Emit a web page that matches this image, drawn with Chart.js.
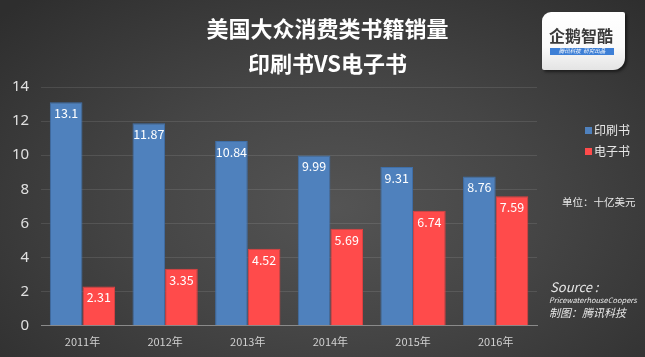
<!DOCTYPE html>
<html><head><meta charset="utf-8">
<script src="https://cdn.jsdelivr.net/npm/chart.js@4/dist/chart.umd.min.js"></script>
<style>
html,body{margin:0;padding:0;width:645px;height:357px;overflow:hidden;}
body{background:radial-gradient(ellipse 70% 80% at 52% 58%, #545454 0%, #454545 45%, #2e2e2e 100%);font-family:"Noto Sans CJK SC","Noto Sans",sans-serif;position:relative;}
#wrap{position:absolute;left:0;top:0;width:645px;height:357px;}
.t{position:absolute;color:#fff;font-weight:bold;white-space:nowrap;}
#logo{position:absolute;left:542px;top:12px;width:83px;height:58px;background:linear-gradient(#ffffff 0%, #fafafa 60%, #e4e4e4 100%);border-radius:9px 2px 12px 2px;box-shadow:2px 2px 3px rgba(0,0,0,0.5);}
#logo .a{position:absolute;left:7px;top:14px;font-size:16px;font-weight:bold;color:#3a3a3a;letter-spacing:0px;line-height:18px;}
#logo .b{position:absolute;left:8px;top:36px;width:64px;height:7px;background:#3d7fd6;color:#fff;font-size:5.5px;line-height:7px;text-align:center;font-style:italic;}
.s{position:absolute;color:#e8e8e8;white-space:nowrap;font-style:italic;}
</style></head>
<body>
<div id="wrap"><canvas id="c" width="645" height="357"></canvas></div>
<div class="t" style="left:0;width:655px;text-align:center;top:11px;font-size:22px;">美国大众消费类书籍销量</div>
<div class="t" style="left:0;width:655px;text-align:center;top:46px;font-size:22px;">印刷书VS电子书</div>
<div id="logo"><div class="a">企鹅智酷</div><div class="b">腾讯科技&nbsp;&nbsp;研究出品</div></div>
<div class="s" style="left:550px;top:277px;font-size:13px;">Source :</div>
<div class="s" style="left:549px;top:294px;font-size:7.5px;">PricewaterhouseCoopers</div>
<div class="s" style="left:549px;top:304px;font-size:11px;">制图：腾讯科技</div>
<script>
const categories = ["2011年","2012年","2013年","2014年","2015年","2016年"];
const printBooks = [13.1, 11.87, 10.84, 9.99, 9.31, 8.76];
const eBooks = [2.31, 3.35, 4.52, 5.69, 6.74, 7.59];
const seriesNames = ["印刷书","电子书"];
const unitLabel = "单位：十亿美元";

const labelPlugin = {
  id:'vals',
  afterDatasetsDraw(chart){
    const ctx = chart.ctx;
    ctx.save();
    ctx.fillStyle = '#ffffff';
    ctx.font = '12.5px "Noto Sans CJK SC", "Noto Sans", sans-serif';
    ctx.textAlign = 'center';
    ctx.textBaseline = 'top';
    chart.data.datasets.forEach((ds,i)=>{
      chart.getDatasetMeta(i).data.forEach((bar,j)=>{
        ctx.fillText(String(ds.data[j]), bar.x, bar.y + 5);
      });
    });
    ctx.restore();
  }
};
const extraPlugin = {
  id:'extra',
  afterDraw(chart){
    const ctx = chart.ctx;
    ctx.save();
    ctx.font = '12px "Noto Sans CJK SC", "Noto Sans", sans-serif';
    ctx.textBaseline = 'middle';
    const colors = ['#4f81bd','#ff4b4b'];
    seriesNames.forEach((n,i)=>{
      const y = 130 + i*21;
      ctx.fillStyle = colors[i];
      ctx.fillRect(585, y-3, 7, 7);
      ctx.fillStyle = '#e6e6e6';
      ctx.fillText(n, 594, y);
    });
    ctx.font = '10.5px "Noto Sans CJK SC", "Noto Sans", sans-serif';
    ctx.fillText(unitLabel, 562, 202);
    ctx.restore();
  }
};

new Chart(document.getElementById('c'), {
  type:'bar',
  data:{
    labels:categories,
    datasets:[
      {label:seriesNames[0], data:printBooks, backgroundColor:'#4f81bd', borderColor:'#3f6fa8', borderWidth:{top:1,left:1,right:1,bottom:0}},
      {label:seriesNames[1], data:eBooks, backgroundColor:'#ff4b4b', borderColor:'#e04040', borderWidth:{top:1,left:1,right:1,bottom:0}}
    ]
  },
  options:{
    responsive:false, animation:false, devicePixelRatio:1,
    layout:{padding:{top:87, right:108, bottom:0, left:0}},
    datasets:{bar:{categoryPercentage:0.79, barPercentage:1.0}},
    plugins:{legend:{display:false}, tooltip:{enabled:false}},
    scales:{
      x:{
        grid:{display:false, drawTicks:false},
        border:{color:'#8a8a8a', width:1},
        ticks:{color:'#d0d0d0', font:{size:11, family:'"Noto Sans CJK SC", "Noto Sans", sans-serif'}, padding:9}
      },
      y:{
        min:0, max:14,
        ticks:{stepSize:2, color:'#e0e0e0', font:{size:15, family:'"Noto Sans", sans-serif'}, padding:12},
        grid:{color:'rgba(255,255,255,0.1)', drawTicks:false},
        border:{display:false}
      }
    }
  },
  plugins:[labelPlugin, extraPlugin]
});
</script>
</body></html>
